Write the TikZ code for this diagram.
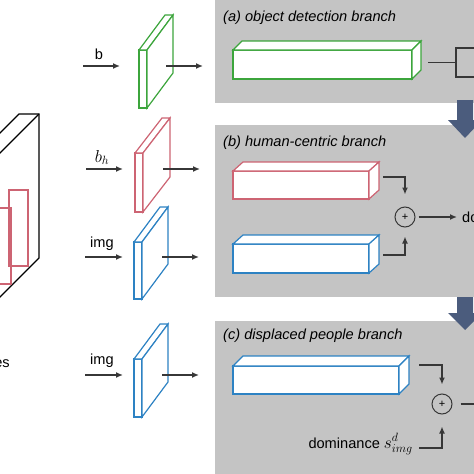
\documentclass[tikz,border=0pt]{standalone}
\usepackage{fontspec}
\setmainfont{Liberation Sans}
\usetikzlibrary{arrows.meta}

\definecolor{panelgray}{RGB}{196,196,196}
\definecolor{darkline}{RGB}{55,55,55}
\definecolor{featgreen}{RGB}{60,165,60}
\definecolor{featpink}{RGB}{205,100,115}
\definecolor{featblue}{RGB}{45,130,195}
\definecolor{flowslate}{RGB}{75,92,125}

% top and side faces of a box whose front face is node #1
\newcommand{\depthfaces}[4]{%
\draw[#2, line width=1.2pt, fill=white] (#1.north west) -- ++(#3,#4) -- ([shift={(#3,#4)}]#1.north east) -- (#1.north east) -- cycle;
\draw[#2, line width=1.2pt, fill=white] (#1.north east) -- ([shift={(#3,#4)}]#1.north east) -- ([shift={(#3,#4)}]#1.south east) -- (#1.south east) -- cycle;}
\newcommand{\bigmath}[1]{{\fontsize{18}{20}\selectfont$#1$}}

\begin{document}
\begin{tikzpicture}
[x=1pt, y=-1pt, >={Latex[length=7pt,width=6pt]},
panel/.style={fill=panelgray, draw=none},
face/.style={rectangle, fill=white, line width=1.2pt, inner sep=0pt, outer sep=0pt},
connect/.style={->, line width=1.6pt, draw=darkline},
wire/.style={line width=1.6pt, draw=darkline},
sumnode/.style={circle, draw=darkline, line width=1pt, minimum size=20pt, inner sep=0pt, font=\fontsize{11}{11}\selectfont},
lbl/.style={font=\fontsize{14.6}{17}\selectfont, inner sep=0pt},
title/.style={font=\fontsize{14.6}{17}\selectfont\itshape, inner sep=0pt, anchor=base west}]
\clip (0,0) rectangle (474,474);

% panels
\fill[panel] (215,-5) rectangle (480,103);
\fill[panel] (215,125) rectangle (480,297);
\fill[panel] (215,321) rectangle (480,480);
\fill[flowslate] (457,100) -- (473,100) -- (473,120) -- (482,120) -- (465,138) -- (448,120) -- (457,120) -- cycle;
\fill[flowslate] (457,297) -- (473,297) -- (473,313) -- (482,313) -- (465,330) -- (448,313) -- (457,313) -- cycle;

\node[title] (titlea) at (223,21) {(a) object detection branch};
\node[title] (titleb) at (223,146) {(b) human-centric branch};
\node[title] (titlec) at (223,339) {(c) displaced people branch};

% input box on the left
\draw[line width=1.4pt] (-10,143) -- (19,114) -- (39,114) -- (39,258) -- (-10,307);
\draw[line width=1.4pt] (39,114) -- (-10,163);
\draw[featpink, line width=1.2pt] (9,190) rectangle (28,266);
\draw[featpink, line width=1.2pt] (-10,208) rectangle (11,284);
\node[lbl, anchor=base east] (inputcap) at (10,367) {es};

% slabs
\node[face, draw=featgreen, minimum width=8pt, minimum height=58pt] (bslab) at (143,79) {};
\depthfaces{bslab}{featgreen}{26}{-35}
\node[face, draw=featpink, minimum width=8pt, minimum height=59pt] (bhslab) at (139,182.5) {};
\depthfaces{bhslab}{featpink}{27}{-35}
\node[face, draw=featblue, minimum width=8pt, minimum height=57pt] (imgslabb) at (138,270.5) {};
\depthfaces{imgslabb}{featblue}{26}{-35}
\node[face, draw=featblue, minimum width=8pt, minimum height=58pt] (imgslabc) at (138,388) {};
\depthfaces{imgslabc}{featblue}{26}{-35}

\node[lbl, anchor=base] (blabel) at (99,59) {b};
\node[lbl, anchor=base] (bhlabel) at (102,162) {\bigmath{b_h}};
\node[lbl, anchor=base] (imglabelb) at (102,247) {img};
\node[lbl, anchor=base] (imglabelc) at (102,364) {img};

\coordinate (bin) at (83,66);
\coordinate (bmid) at (166,66);
\coordinate (bout) at (203,66);
\coordinate (bhin) at (86,169);
\coordinate (bhmid) at (163,169);
\coordinate (bhout) at (200,169);
\coordinate (imginb) at (85,257);
\coordinate (imgmidb) at (162,257);
\coordinate (imgoutb) at (199,257);
\coordinate (imginc) at (85,375);
\coordinate (imgmidc) at (162,375);
\coordinate (imgoutc) at (199,375);
\draw[connect] (bin) -- ++(37,0);
\draw[connect] (bmid) -- (bout);
\draw[connect] (bhin) -- ++(37,0);
\draw[connect] (bhmid) -- (bhout);
\draw[connect] (imginb) -- ++(38,0);
\draw[connect] (imgmidb) -- (imgoutb);
\draw[connect] (imginc) -- ++(38,0);
\draw[connect] (imgmidc) -- (imgoutc);

% branch features
\node[face, draw=featgreen, minimum width=179pt, minimum height=29pt] (objcube) at (322.5,64.5) {};
\depthfaces{objcube}{featgreen}{9}{-9}
\node[face, draw=featpink, minimum width=136pt, minimum height=28pt] (humcube) at (301,185) {};
\depthfaces{humcube}{featpink}{10}{-9}
\node[face, draw=featblue, minimum width=136pt, minimum height=29pt] (imgcubeb) at (301,258.5) {};
\depthfaces{imgcubeb}{featblue}{10}{-9}
\node[face, draw=featblue, minimum width=166pt, minimum height=28pt] (imgcubec) at (316,380) {};
\depthfaces{imgcubec}{featblue}{10}{-10}

% (a)
\node[draw=darkline, line width=1.6pt, minimum width=44pt, minimum height=29pt, inner sep=0pt] (detbox) at (478,62.5) {};
\draw[wire] (detbox.west) -- ++(-27,0);

% (b)
\node[sumnode] (sumb) at (405,217) {+};
\coordinate (humout) at (383,177);
\coordinate (imgfeatb) at (383,255);
\draw[connect] (humout) -| ([yshift=12pt]sumb.north);
\draw[connect] (imgfeatb) -| ([yshift=-9pt]sumb.south);
\node[lbl, anchor=base west] (domb) at (462,222) {dominance};
\draw[connect, shorten <=3pt, shorten >=5pt] (sumb.east) -- (domb.west |- sumb.east);

% (c)
\node[sumnode] (sumc) at (442,404) {+};
\coordinate (imgfeatc) at (419,365);
\draw[connect] (imgfeatc) -| ([yshift=9pt]sumc.north);
\node[lbl, anchor=base east] (domc) at (413,448) {dominance \bigmath{s^{d}_{img}}};
\coordinate (domout) at (419,448);
\draw[connect] (domout) -| ([yshift=-12pt]sumc.south);
\draw[wire, shorten <=8pt] (sumc.east) -- ++(40,0);

\end{tikzpicture}
\end{document}
